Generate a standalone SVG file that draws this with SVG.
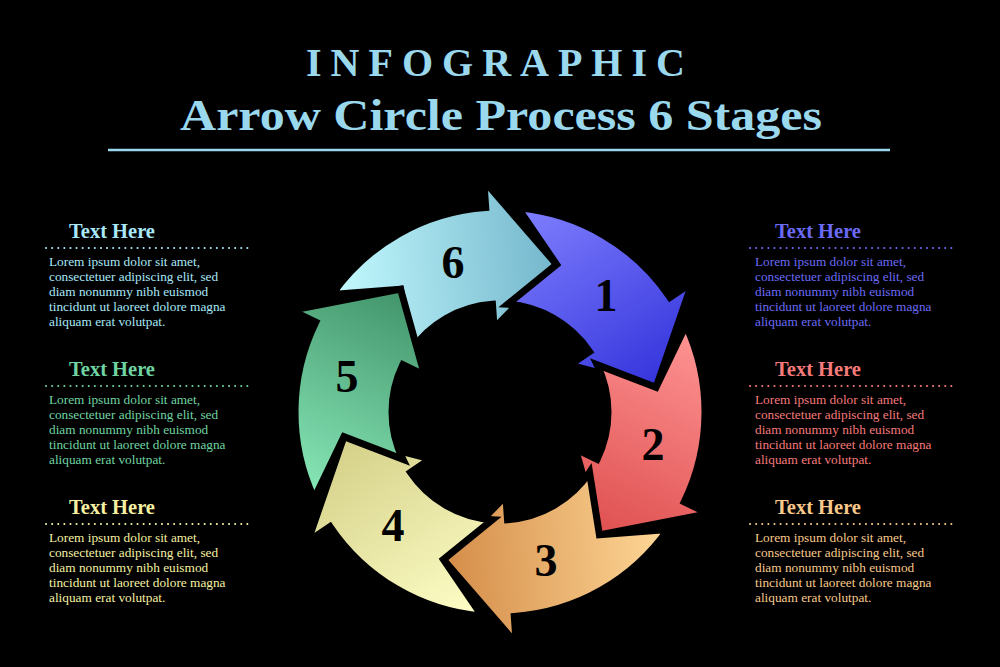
<svg xmlns="http://www.w3.org/2000/svg" width="1000" height="667" viewBox="0 0 1000 667">
<style>
.t{font-family:"Liberation Serif","DejaVu Serif",serif}
.h{font-size:20.5px;font-weight:bold}
.b{font-size:13.3px}
.n{font-family:"Liberation Serif","DejaVu Serif",serif;font-size:46px;font-weight:bold;fill:#000;text-anchor:middle}
.a{stroke:#000;stroke-width:7;stroke-linejoin:miter}
.d{stroke-width:2;stroke-dasharray:0.1 6;stroke-linecap:round}
</style>
<defs>
<path id="arr" d="M-159.3,-129 A205,205 0 0 1 0,-205 L0,-232 L66.8,-143.2 L0,-84 L0,-108 A108,108 0 0 0 -85.1,-66.5 L-90.6,-129.4 Z"/>
<linearGradient id="g6" x1="0" x2="1"><stop offset="0" stop-color="#c4fbff"/><stop offset="1" stop-color="#74b6cc"/></linearGradient>
<linearGradient id="g1" x1="0" x2="1"><stop offset="0" stop-color="#8080ff"/><stop offset="1" stop-color="#3434dc"/></linearGradient>
<linearGradient id="g2" x1="0" x2="1"><stop offset="0" stop-color="#ff9494"/><stop offset="1" stop-color="#df5050"/></linearGradient>
<linearGradient id="g3" x1="0" x2="1"><stop offset="0" stop-color="#ffd898"/><stop offset="1" stop-color="#d48c48"/></linearGradient>
<linearGradient id="g4" x1="0" x2="1"><stop offset="0" stop-color="#ffffc8"/><stop offset="1" stop-color="#d4d088"/></linearGradient>
<linearGradient id="g5" x1="0" x2="1"><stop offset="0" stop-color="#88e8b8"/><stop offset="1" stop-color="#42946a"/></linearGradient>
</defs>
<rect width="1000" height="667" fill="#000"/>
<text class="t" x="500" y="76" text-anchor="middle" font-size="40" font-weight="bold" letter-spacing="9" fill="#9ad8ee">INFOGRAPHIC</text>
<text class="t" x="180" y="130" font-size="44" font-weight="bold" textLength="642" lengthAdjust="spacingAndGlyphs" fill="#9ad8ee">Arrow Circle Process 6 Stages</text>
<line x1="108" y1="150" x2="890" y2="150" stroke="#9ad8ee" stroke-width="2.5"/>
<g id="arrow6"><use href="#arr" class="a" fill="url(#g6)" transform="translate(500,412) rotate(-4)"/><text class="n" x="453" y="278">6</text></g>
<g id="arrow1"><use href="#arr" class="a" fill="url(#g1)" transform="translate(500,412) rotate(56)"/><text class="n" x="606" y="311">1</text></g>
<g id="arrow2"><use href="#arr" class="a" fill="url(#g2)" transform="translate(500,412) rotate(116)"/><text class="n" x="653" y="460">2</text></g>
<g id="arrow3"><use href="#arr" class="a" fill="url(#g3)" transform="translate(500,412) rotate(176)"/><text class="n" x="546" y="576">3</text></g>
<g id="arrow4"><use href="#arr" class="a" fill="url(#g4)" transform="translate(500,412) rotate(236)"/><text class="n" x="393" y="541">4</text></g>
<g id="arrow5"><use href="#arr" class="a" fill="url(#g5)" transform="translate(500,412) rotate(296)"/><text class="n" x="347" y="392">5</text></g>
<g id="connectors"></g>
<g id="L1" class="t" fill="#a8e8f8">
<text class="h" x="69" y="238">Text Here</text><line class="d" x1="46" y1="248" x2="250" y2="248" stroke="#a8e8f8"/>
<text class="b" x="49" y="266">Lorem ipsum dolor sit amet,</text><text class="b" x="49" y="281">consectetuer adipiscing elit, sed</text><text class="b" x="49" y="296">diam nonummy nibh euismod</text><text class="b" x="49" y="311">tincidunt ut laoreet dolore magna</text><text class="b" x="49" y="326">aliquam erat volutpat.</text></g>
<g id="L2" class="t" fill="#6fd4a0">
<text class="h" x="69" y="376">Text Here</text><line class="d" x1="46" y1="386" x2="250" y2="386" stroke="#6fd4a0"/>
<text class="b" x="49" y="404">Lorem ipsum dolor sit amet,</text><text class="b" x="49" y="419">consectetuer adipiscing elit, sed</text><text class="b" x="49" y="434">diam nonummy nibh euismod</text><text class="b" x="49" y="449">tincidunt ut laoreet dolore magna</text><text class="b" x="49" y="464">aliquam erat volutpat.</text></g>
<g id="L3" class="t" fill="#f5f0a0">
<text class="h" x="69" y="514">Text Here</text><line class="d" x1="46" y1="524" x2="250" y2="524" stroke="#f5f0a0"/>
<text class="b" x="49" y="542">Lorem ipsum dolor sit amet,</text><text class="b" x="49" y="557">consectetuer adipiscing elit, sed</text><text class="b" x="49" y="572">diam nonummy nibh euismod</text><text class="b" x="49" y="587">tincidunt ut laoreet dolore magna</text><text class="b" x="49" y="602">aliquam erat volutpat.</text></g>
<g id="R1" class="t" fill="#6a6af5">
<text class="h" x="775" y="238">Text Here</text><line class="d" x1="750" y1="248" x2="956" y2="248" stroke="#6a6af5"/>
<text class="b" x="755" y="266">Lorem ipsum dolor sit amet,</text><text class="b" x="755" y="281">consectetuer adipiscing elit, sed</text><text class="b" x="755" y="296">diam nonummy nibh euismod</text><text class="b" x="755" y="311">tincidunt ut laoreet dolore magna</text><text class="b" x="755" y="326">aliquam erat volutpat.</text></g>
<g id="R2" class="t" fill="#f57a7a">
<text class="h" x="775" y="376">Text Here</text><line class="d" x1="750" y1="386" x2="956" y2="386" stroke="#f57a7a"/>
<text class="b" x="755" y="404">Lorem ipsum dolor sit amet,</text><text class="b" x="755" y="419">consectetuer adipiscing elit, sed</text><text class="b" x="755" y="434">diam nonummy nibh euismod</text><text class="b" x="755" y="449">tincidunt ut laoreet dolore magna</text><text class="b" x="755" y="464">aliquam erat volutpat.</text></g>
<g id="R3" class="t" fill="#f8c98a">
<text class="h" x="775" y="514">Text Here</text><line class="d" x1="750" y1="524" x2="956" y2="524" stroke="#f8c98a"/>
<text class="b" x="755" y="542">Lorem ipsum dolor sit amet,</text><text class="b" x="755" y="557">consectetuer adipiscing elit, sed</text><text class="b" x="755" y="572">diam nonummy nibh euismod</text><text class="b" x="755" y="587">tincidunt ut laoreet dolore magna</text><text class="b" x="755" y="602">aliquam erat volutpat.</text></g>
</svg>
